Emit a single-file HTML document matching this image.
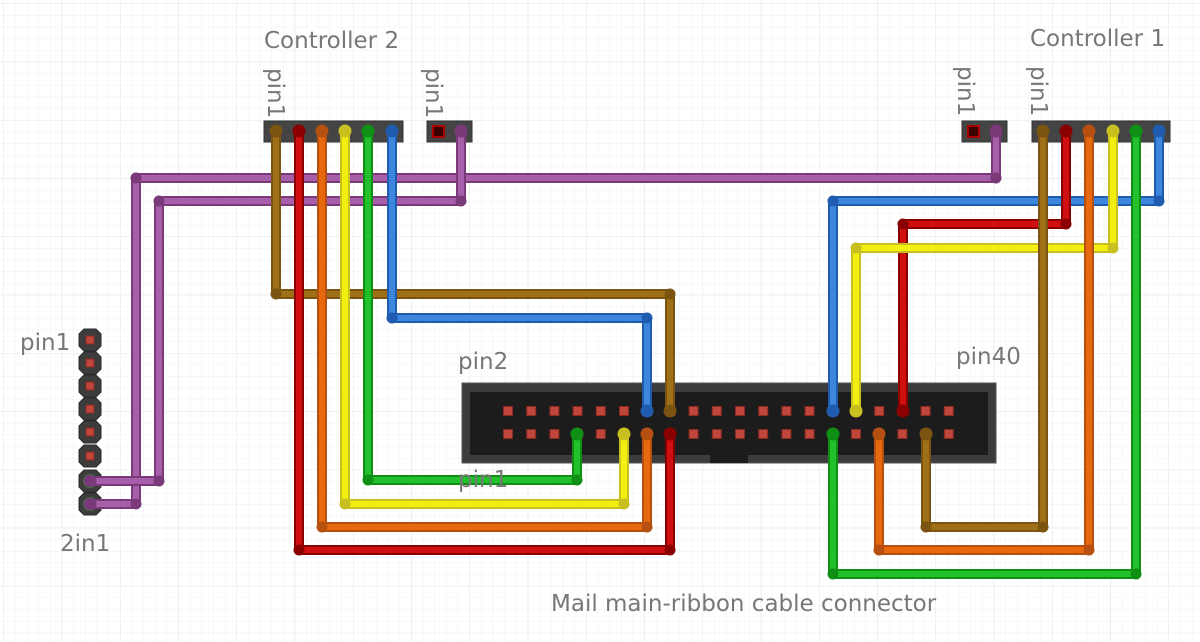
<!DOCTYPE html>
<html><head><meta charset="utf-8"><style>
html,body{margin:0;padding:0;background:#fff;}
svg{display:block;}
text{font-family:"DejaVu Sans","Liberation Sans",sans-serif;fill:#777;font-size:23px;}
</style></head><body>
<svg id="s" width="1200" height="642" viewBox="0 0 1200 642" xmlns="http://www.w3.org/2000/svg">
<defs>
<pattern id="g" width="11.65" height="11.65" patternUnits="userSpaceOnUse" x="4" y="4">
<path d="M11.65 0V11.65H0" fill="none" stroke="#eef0f4" stroke-width="1"/>
</pattern>
<pattern id="G" width="58.25" height="58.25" patternUnits="userSpaceOnUse" x="4" y="4">
<path d="M58.25 0V58.25H0" fill="none" stroke="#e2e5ea" stroke-width="1"/>
</pattern>
</defs>
<rect width="1200" height="642" fill="url(#g)"/>
<rect width="1200" height="642" fill="url(#G)"/>

<rect x="462" y="383" width="534" height="80" fill="#3c3c3c" stroke="#555" stroke-width="1"/>
<rect x="470" y="392" width="518" height="63" fill="#1c1c1c"/>
<rect x="710" y="455" width="38" height="8" fill="#1c1c1c"/>
<g id="rpins"></g>

<rect x="264" y="121" width="139" height="21" fill="#444" stroke="#333"/>
<rect x="427" y="121" width="45" height="21" fill="#444" stroke="#333"/>
<rect x="1032" y="121" width="138" height="21" fill="#444" stroke="#333"/>
<rect x="962" y="121" width="45" height="21" fill="#444" stroke="#333"/>
<rect x="433" y="126" width="11" height="11" fill="#3a0000" stroke="#a00" stroke-width="2"/>
<rect x="968" y="126" width="11" height="11" fill="#3a0000" stroke="#a00" stroke-width="2"/>

<g id="lh"></g>
<g id="wires"></g>

<text x="264" y="48">Controller 2</text>
<text x="1030" y="46">Controller 1</text>
<text transform="translate(268,68) rotate(90)">pin1</text>
<text transform="translate(426,68) rotate(90)">pin1</text>
<text transform="translate(958,66) rotate(90)">pin1</text>
<text transform="translate(1031,66) rotate(90)">pin1</text>
<text x="458" y="369">pin2</text>
<text x="956" y="364">pin40</text>
<text x="458" y="487">pin1</text>
<text x="20" y="350">pin1</text>
<text x="60" y="551">2in1</text>
<text x="551" y="611">Mail main-ribbon cable connector</text>
</svg>
<script>
var NS="http://www.w3.org/2000/svg";
function el(p,t,a){var e=document.createElementNS(NS,t);for(var k in a)e.setAttribute(k,a[k]);p.appendChild(e);return e;}
var rp=document.getElementById("rpins");
for(var i=0;i<20;i++){var x=508+i*23.2;[411,434].forEach(function(y){el(rp,"rect",{x:x-4.5,y:y-4.5,width:9,height:9,fill:"#c0453a",stroke:"#8a2a22","stroke-width":1});});}
var lh=document.getElementById("lh");
[340,363,386,409,432,456,481,504].forEach(function(y,i){
 el(lh,"path",{d:"M84 "+(y-11)+"h12l5 5v12l-5 5h-12l-5-5v-12z",fill:"#3c3c3c",stroke:"#2a2a2a"});
 if(i<6)el(lh,"rect",{x:86,y:y-4,width:8,height:8,fill:"#c0453a",stroke:"#8a2a22"});
 else el(lh,"circle",{cx:90,cy:y,r:6,fill:"#888",stroke:"#1b9a1b","stroke-width":2});
});
var W=document.getElementById("wires");
function wire(pts,c,d){
 var s="M"+pts.map(function(p){return p.join(" ")}).join("L");
 el(W,"path",{d:s,fill:"none",stroke:d,"stroke-width":10,"stroke-linejoin":"round","stroke-linecap":"round"});
 el(W,"path",{d:s,fill:"none",stroke:c,"stroke-width":6,"stroke-linejoin":"round","stroke-linecap":"round"});
 pts.forEach(function(p,i){if(i>0&&i<pts.length-1)el(W,"circle",{cx:p[0],cy:p[1],r:5.5,fill:d});});
 el(W,"circle",{cx:pts[0][0],cy:pts[0][1],r:6.5,fill:d});
 var l=pts[pts.length-1];el(W,"circle",{cx:l[0],cy:l[1],r:6.5,fill:d});
}
var P=["#a65fa8","#7a3a7a"],BR=["#a07018","#7a5410"],BL=["#3d86dd","#1f5cb0"],GR=["#22c02a","#0f9015"],YE=["#f2ee10","#c8c020"],OR=["#e8680e","#b55010"],RE=["#d01010","#8a0000"];
wire([[996,131],[996,178],[136,178],[136,504],[90,504]],P[0],P[1]);
wire([[461,131],[461,201],[159,201],[159,481],[90,481]],P[0],P[1]);
wire([[276,131],[276,294],[670,294],[670,411]],BR[0],BR[1]);
wire([[392,131],[392,318],[647,318],[647,411]],BL[0],BL[1]);
wire([[368,131],[368,480],[577,480],[577,434]],GR[0],GR[1]);
wire([[345,131],[345,504],[624,504],[624,434]],YE[0],YE[1]);
wire([[322,131],[322,527],[647,527],[647,434]],OR[0],OR[1]);
wire([[299,131],[299,550],[670,550],[670,434]],RE[0],RE[1]);
wire([[1159,131],[1159,201],[833,201],[833,411]],BL[0],BL[1]);
wire([[1066,131],[1066,224],[903,224],[903,411]],RE[0],RE[1]);
wire([[1113,131],[1113,248],[856,248],[856,411]],YE[0],YE[1]);
wire([[1043,131],[1043,527],[926,527],[926,434]],BR[0],BR[1]);
wire([[1089,131],[1089,550],[879,550],[879,434]],OR[0],OR[1]);
wire([[1136,131],[1136,574],[833,574],[833,434]],GR[0],GR[1]);
</script>
</body></html>
